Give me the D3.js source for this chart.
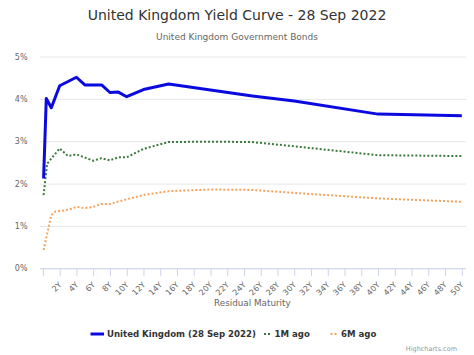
<!DOCTYPE html>
<html><head><meta charset="utf-8">
<script src="https://cdn.jsdelivr.net/npm/d3@7"></script>
<style>
html,body{margin:0;padding:0;background:#fff;}
svg{display:block;font-family:"DejaVu Sans",Verdana,sans-serif;}
</style></head>
<body>
<svg id="chart" width="474" height="355"></svg>
<script>
// ---- data ----
const seriesNames = ["United Kingdom (28 Sep 2022)", "1M ago", "6M ago"];
const ukMaturities = [0.08, 0.4, 1, 2, 4, 5, 7, 8, 9, 10, 12, 15, 20, 25, 30, 40, 50];
const ukYields     = [2.12, 4.01, 3.79, 4.31, 4.51, 4.33, 4.33, 4.15, 4.16, 4.05, 4.22, 4.35, 4.21, 4.07, 3.95, 3.64, 3.60];
const m1Maturities = [0.08, 0.5, 2, 3, 4, 6, 7, 8, 9, 10, 12, 15, 20, 25, 30, 40, 50];
const m1Yields     = [1.73, 2.47, 2.83, 2.65, 2.69, 2.54, 2.60, 2.55, 2.62, 2.62, 2.82, 2.98, 2.99, 2.98, 2.88, 2.67, 2.65];
const m6Maturities = [0.08, 1, 1.5, 3, 4, 5, 6, 7, 8, 10, 12, 15, 20, 25, 30, 40, 50];
const m6Yields     = [0.43, 1.26, 1.34, 1.38, 1.45, 1.42, 1.45, 1.52, 1.52, 1.63, 1.73, 1.82, 1.86, 1.85, 1.78, 1.65, 1.57];
const xTickValues = d3.range(0, 51, 2);
const yTickValues = [0, 1, 2, 3, 4, 5];
const titleText = "United Kingdom Yield Curve - 28 Sep 2022";
const subtitleText = "United Kingdom Government Bonds";
const xAxisTitle = "Residual Maturity";
const creditText = "Highcharts.com";

// ---- layout ----
const svg = d3.select("#chart");
const plotLeft = 40, plotRight = 466, plotTop = 56.5, plotBottom = 268.3;
const x = d3.scaleLinear().domain([-0.35, 50.5]).range([plotLeft, plotRight]);
const y = d3.scaleLinear().domain([0, 5]).range([plotBottom, plotTop]);

const styles = [
  {color: "#0a0ae0", width: 3, dash: null},
  {color: "#3c7a3c", width: 2, dash: "2,2"},
  {color: "#f7a35c", width: 2, dash: "2,2"}
];
const legendSymbolX = [90.5, 258, 324.5];

// title
svg.append("text").attr("x", 237).attr("y", 20).attr("text-anchor", "middle")
  .attr("font-size", 14).attr("fill", "#333").text(titleText);
svg.append("text").attr("x", 237).attr("y", 40).attr("text-anchor", "middle")
  .attr("font-size", 9).attr("fill", "#666").text(subtitleText);

// y grid + labels
const yAxis = d3.axisLeft(y).tickValues(yTickValues).tickSize(-(plotRight - plotLeft))
  .tickFormat(d => d + "%").tickPadding(12.5);
const gy = svg.append("g").attr("transform", `translate(${plotLeft},0)`).call(yAxis);
gy.select(".domain").remove();
gy.selectAll(".tick line").attr("stroke", "#e6e6e6").attr("stroke-width", 1);
gy.selectAll(".tick text").attr("fill", "#666").attr("font-size", 8)
  .attr("font-family", "DejaVu Sans, sans-serif").attr("dy", "0.32em");

// x axis
const xAxis = d3.axisBottom(x).tickValues(xTickValues).tickSize(8).tickSizeOuter(0)
  .tickFormat(d => d === 0 ? "" : d + "Y");
const gx = svg.append("g").attr("transform", `translate(0,${plotBottom})`).call(xAxis);
gx.select(".domain").attr("stroke", "#ccd6eb").attr("d", `M${plotLeft},0.5H${plotRight}`);
gx.selectAll(".tick line").attr("stroke", "#ccd6eb");
gx.selectAll(".tick text").attr("fill", "#666").attr("font-size", 8)
  .attr("font-family", "DejaVu Sans, sans-serif")
  .attr("text-anchor", "end").attr("y", 0).attr("dy", 0)
  .attr("transform", "translate(2,17) rotate(-45)");

svg.append("text").attr("x", (x(0) + x(50)) / 2).attr("y", 305.5).attr("text-anchor", "middle")
  .attr("font-size", 8.8).attr("fill", "#666").text(xAxisTitle);

// lines
const seriesData = [
  ukMaturities.map((m, i) => [m, ukYields[i]]),
  m1Maturities.map((m, i) => [m, m1Yields[i]]),
  m6Maturities.map((m, i) => [m, m6Yields[i]])
];
const line = d3.line().x(d => x(d[0])).y(d => y(d[1]));
// draw in reverse so the main series is on top
[2, 1, 0].forEach(i => {
  svg.append("path").datum(seriesData[i]).attr("d", line)
    .attr("fill", "none").attr("stroke", styles[i].color)
    .attr("stroke-width", styles[i].width)
    .attr("stroke-linejoin", "round")
    .attr("stroke-dasharray", styles[i].dash);
});

// legend
const legend = svg.append("g");
const ly = 334;
seriesNames.forEach((name, i) => {
  const lx = legendSymbolX[i];
  const sx = styles[i].dash ? lx + 6 : lx;
  legend.append("line").attr("x1", sx).attr("x2", lx + 13.5).attr("y1", ly).attr("y2", ly)
    .attr("stroke", styles[i].color).attr("stroke-width", styles[i].width)
    .attr("stroke-dasharray", styles[i].dash);
  legend.append("text").attr("x", lx + 16.5).attr("y", ly + 3.2)
    .attr("font-size", 8.6).attr("font-weight", "bold").attr("fill", "#333").text(name);
});

svg.append("text").attr("x", 457).attr("y", 351).attr("text-anchor", "end")
  .attr("font-size", 6.5).attr("fill", "#999").text(creditText);
</script>
</body></html>
